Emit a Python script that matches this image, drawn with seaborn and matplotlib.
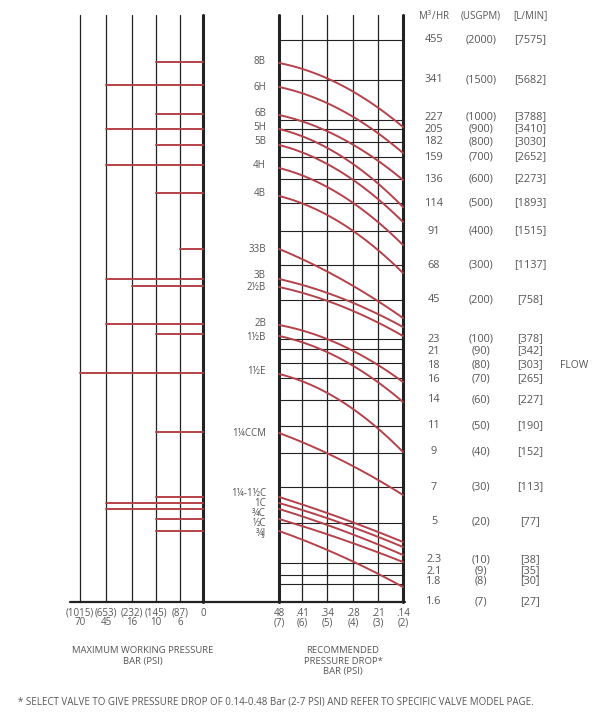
import numpy as np
import pandas as pd
import matplotlib
matplotlib.use("Agg")
import matplotlib.pyplot as plt
import seaborn as sns

sns.set_style("white")
plt.rcParams['font.family'] = ['Open Sans', 'DejaVu Sans']

# ---- data (pixel-space nomograph positions) ----
m3hr = ["455","341","227","205","182","159","136","114","91","68","45","23","21","18","16","14","11","9","7","5","2.3","2.1","1.8","1.6"]
usgpm = ["(2000)","(1500)","(1000)","(900)","(800)","(700)","(600)","(500)","(400)","(300)","(200)","(100)","(90)","(80)","(70)","(60)","(50)","(40)","(30)","(20)","(10)","(9)","(8)","(7)"]
lmin = ["[7575]","[5682]","[3788]","[3410]","[3030]","[2652]","[2273]","[1893]","[1515]","[1137]","[758]","[378]","[342]","[303]","[265]","[227]","[190]","[152]","[113]","[77]","[38]","[35]","[30]","[27]"]
flow_y = [40,80,120,129,142,157,179,203,231,265,300,339,349,363,378,400,426,453,487,523,563,575,584,602]
label_y = [40,80,117,129,142,157,179,203,231,265,300,339,351,365,379,400,426,452,487,522,560,571,581,602]

valves = ["8B","6H","6B","5H","5B","4H","4B","33B","3B","2½B","2B","1½B","1½E","1¼CCM","1¼-1½C","1C","¾C","½C","¾J"]
drop_start = [63,87,115,129,145,168,196,249,279,287,325,336,374,433,497,503,509,519,531]
drop_mid   = [85,110,138,156,172,195,223,279,298,306,345,359,401,460,518,523,530,539,556]
drop_end   = [127,153,180,207,222,245,273,318,327,336,382,402,452,495,542,547,555,562,587]
valve_label_y = [61,87,113,127,141,165,193,249,275,288,323,338,372,433,493,503,513,523,533]

press_y = [62,85,114,129,145,165,193,249,279,286,324,334,373,432,497,503,509,519,531]
press_x0 = [156,106,156,106,156,106,156,180,106,132,106,156,80,156,156,106,106,156,156]

press_cols_x = [80,106,132,156,180,203]
press_top = ["(1015)","(653)","(232)","(145)","(87)",""]
press_bot = ["70","45","16","10","6","0"]
drop_cols_x = [279,302,327,353,378,403]
drop_top = ["48",".41",".34",".28",".21",".14"]
drop_bot = ["(7)","(6)","(5)","(4)","(3)","(2)"]

RED = "#b5414a"
GRID = "#222222"
TXT = "#555555"

fig = plt.figure(figsize=(6.02, 7.14), dpi=100)
ax = fig.add_axes([0, 0, 1, 1])

for i, x in enumerate(press_cols_x):
    ax.plot([x, x], [15, 602], color=GRID, lw=2.2 if i == len(press_cols_x)-1 else 0.9)
for i, x in enumerate(drop_cols_x):
    ax.plot([x, x], [15, 602], color=GRID, lw=2.2 if i in (0, len(drop_cols_x)-1) else 0.9)
ax.plot([70, 405], [602, 602], color=GRID, lw=1.6)
for y in flow_y[:-1]:
    ax.plot([drop_cols_x[0], drop_cols_x[-1]], [y, y], color=GRID, lw=0.8)

for y, x0 in zip(press_y, press_x0):
    ax.plot([x0, press_cols_x[-1]], [y, y], color=RED, lw=1.4)

rows = []
for v, a, m, b in zip(valves, drop_start, drop_mid, drop_end):
    xs = np.array([drop_cols_x[0], (drop_cols_x[0]+drop_cols_x[-1])/2, drop_cols_x[-1]])
    coef = np.polyfit(xs, [a, m, b], 2)
    xx = np.linspace(drop_cols_x[0], drop_cols_x[-1], 40)
    for xv in xx:
        rows.append((v, xv, np.polyval(coef, xv)))
df = pd.DataFrame(rows, columns=["valve", "x", "y"])
sns.lineplot(data=df, x="x", y="y", units="valve", estimator=None, sort=False,
             color=RED, lw=1.4, ax=ax, legend=False)
ax.set_xlim(0, 602); ax.set_ylim(714, 0); ax.axis("off")

for v, y in zip(valves, valve_label_y):
    ax.text(266, y, v, ha="right", va="center", fontsize=7, color=TXT)

ax.text(434, 16, "M$^3$/HR", ha="center", va="center", fontsize=7, color=TXT)
ax.text(481, 16, "(USGPM)", ha="center", va="center", fontsize=7, color=TXT)
ax.text(530, 16, "[L/MIN]", ha="center", va="center", fontsize=7, color=TXT)
for a, b, c, y in zip(m3hr, usgpm, lmin, label_y):
    ax.text(434, y, a, ha="center", va="center", fontsize=7.8, color=TXT)
    ax.text(481, y, b, ha="center", va="center", fontsize=7.8, color=TXT)
    ax.text(530, y, c, ha="center", va="center", fontsize=7.8, color=TXT)
ax.text(560, 365, "FLOW", ha="left", va="center", fontsize=7.5, color=TXT)

for x, t, b in zip(press_cols_x, press_top, press_bot):
    if t:
        ax.text(x, 618, t + "\n" + b, ha="center", va="center", fontsize=7, color=TXT, linespacing=0.85)
    else:
        ax.text(x, 614, b, ha="center", va="center", fontsize=7, color=TXT)
for x, t, b in zip(drop_cols_x, drop_top, drop_bot):
    ax.text(x, 618, t + "\n" + b, ha="center", va="center", fontsize=7, color=TXT, linespacing=0.85)

ax.text(143, 656, "MAXIMUM WORKING PRESSURE\nBAR (PSI)", ha="center", va="center", fontsize=6.8, color=TXT)
ax.text(343, 661, "RECOMMENDED\nPRESSURE DROP*\nBAR (PSI)", ha="center", va="center", fontsize=6.8, color=TXT)
ax.text(18, 702, "* SELECT VALVE TO GIVE PRESSURE DROP OF 0.14-0.48 Bar (2-7 PSI) AND REFER TO SPECIFIC VALVE MODEL PAGE.",
        ha="left", va="center", fontsize=7, color=TXT)

fig.savefig("out.png", dpi=100)
